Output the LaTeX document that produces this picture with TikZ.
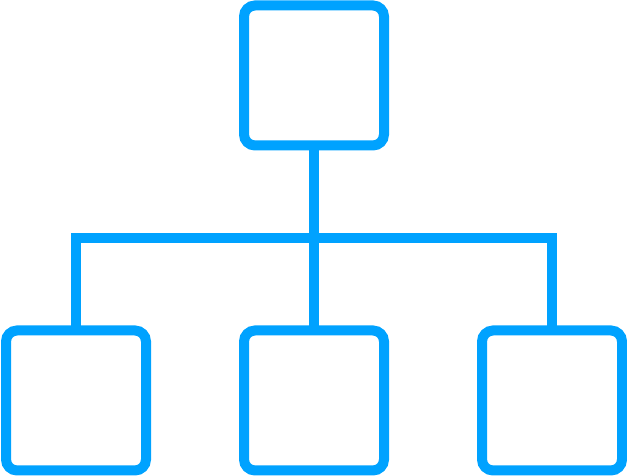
\documentclass[tikz,border=0pt]{standalone}
\usetikzlibrary{positioning}
\definecolor{skyblue}{RGB}{0,162,255}
\tikzset{%
  % Specifications for style of nodes:
        orgbox/.style = {rectangle, rounded corners=11pt, draw=skyblue,
                         line width=10pt, inner sep=0pt, outer sep=0pt,
                         minimum width=140pt, minimum height=140pt},
       orglink/.style = {draw=skyblue, line width=10pt}
}

\begin{document}
\begin{tikzpicture}[x=1pt, y=1pt, node distance=98pt]
  \useasboundingbox (0,0) rectangle (627,476);

  \node (head)  [orgbox] at (314,400.5) {};
  \node (mid)   [orgbox, below=185pt of head] {};
  \node (left)  [orgbox, left=of mid]  {};
  \node (right) [orgbox, right=of mid] {};
  \coordinate [below=93pt of head.south] (hub);

    \draw[orglink]  (head.south) -- (mid.north);
    \draw[orglink]  (left.north) |- (hub) -| (right.north);
\end{tikzpicture}
\end{document}
